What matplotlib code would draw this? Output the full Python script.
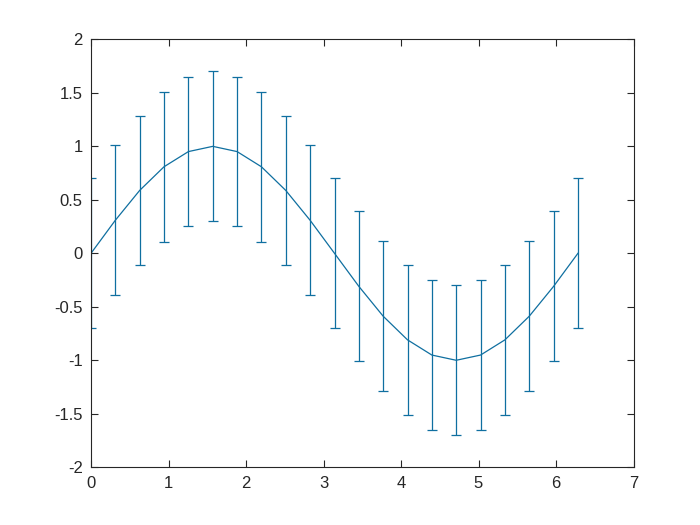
import matplotlib

matplotlib.use("Agg")
import matplotlib.pyplot as plt  # noqa: E402

# values
x = [0.0, 0.314, 0.628, 0.942, 1.257, 1.571, 1.885, 2.199, 2.513, 2.827, 3.142,
     3.456, 3.770, 4.084, 4.398, 4.712, 5.027, 5.341, 5.655, 5.969, 6.283]
y = [0.0, 0.309, 0.588, 0.809, 0.951, 1.0, 0.951, 0.809, 0.588, 0.309, 0.0,
     -0.309, -0.588, -0.809, -0.951, -1.0, -0.951, -0.809, -0.588, -0.309, 0.0]
err = [0.7] * len(x)

xticks = [0, 1, 2, 3, 4, 5, 6, 7]
yticks = [-2, -1.5, -1, -0.5, 0, 0.5, 1, 1.5, 2]
ytick_labels = ["-2", "-1.5", "-1", "-0.5", "0", "0.5", "1", "1.5", "2"]

plt.rcParams["font.family"] = ["Liberation Sans", "DejaVu Sans"]

fig = plt.figure(figsize=(7, 5.25), dpi=100)
ax = fig.add_axes([0.13, 0.11, 0.775, 0.815])

color = "#0f6fa0"
ax.errorbar(x, y, yerr=err, color=color, lw=0.9, elinewidth=0.9,
            capsize=3.4, capthick=0.9)

ax.set_xlim(0, 7)
ax.set_ylim(-2, 2)
ax.set_xticks(xticks)
ax.set_yticks(yticks)
ax.set_yticklabels(ytick_labels)

for s in ax.spines.values():
    s.set_color("#262626")
    s.set_linewidth(0.8)
ax.tick_params(direction="in", top=True, right=True, length=5, width=0.8,
               color="#262626", labelsize=12, labelcolor="#262626", pad=6)

fig.savefig("out.png", dpi=100)
